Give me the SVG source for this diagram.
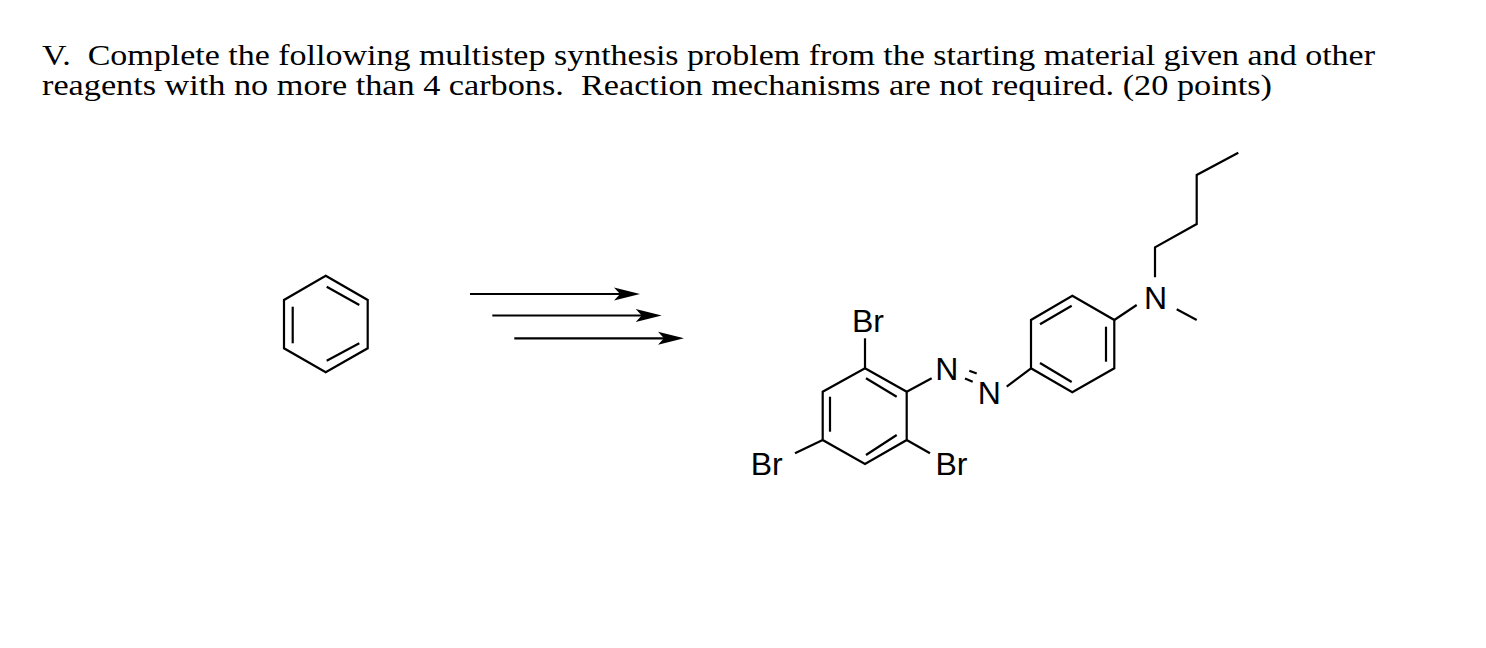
<svg xmlns="http://www.w3.org/2000/svg" width="1486" height="648" viewBox="0 0 1486 648">
<style>
.title{font-family:"Liberation Serif","DejaVu Serif",serif;font-size:29px;fill:#000;white-space:pre}
.b{stroke:#000;stroke-width:2.2;fill:none;stroke-linecap:butt;stroke-linejoin:miter}
.lbl{font-family:"Liberation Sans",Arial,sans-serif;font-size:32px;fill:#000;text-anchor:middle}
</style>
<defs>
<path id="ah" d="M0,0 L-26,-6.5 L-20,0 L-26,6.5 Z" fill="#000"/>
</defs>
<rect width="1486" height="648" fill="#fff"/>
<g id="title">
<text class="title" x="42" y="65" textLength="1333" lengthAdjust="spacingAndGlyphs" xml:space="preserve">V.  Complete the following multistep synthesis problem from the starting material given and other</text>
<text class="title" x="42" y="95" textLength="1230" lengthAdjust="spacingAndGlyphs" xml:space="preserve">reagents with no more than 4 carbons.  Reaction mechanisms are not required. (20 points)</text>
</g>
<g id="benzene">
<polygon class="b" points="325.7,275.7 367.7,300 367.7,348.3 325.7,372.3 284,348.3 284,300"/>
<line class="b" x1="292.7" y1="306.7" x2="292.7" y2="343.3"/>
<line class="b" x1="326.7" y1="286.7" x2="359.3" y2="305"/>
<line class="b" x1="359.3" y1="343.3" x2="326.7" y2="360.7"/>
</g>
<g id="connectors">
<line class="b" x1="470" y1="294" x2="621" y2="294"/>
<use href="#ah" x="640" y="294"/>
<line class="b" x1="492.3" y1="315.5" x2="643" y2="315.5"/>
<use href="#ah" x="661.7" y="315.5"/>
<line class="b" x1="514.3" y1="338.3" x2="665" y2="338.3"/>
<use href="#ah" x="684" y="338.3"/>
</g>
<g id="product">
<polygon class="b" points="865,368.3 906.7,391.7 906.7,440 865,464 822.7,440 822.7,391.7"/>
<line class="b" x1="866" y1="378.3" x2="896.7" y2="396.7"/>
<line class="b" x1="830" y1="396.7" x2="830" y2="431.7"/>
<line class="b" x1="896.7" y1="435" x2="866" y2="455"/>
<line class="b" x1="865" y1="368.3" x2="865" y2="338.3"/>
<line class="b" x1="822.7" y1="440" x2="795" y2="453.3"/>
<line class="b" x1="906.7" y1="440" x2="930" y2="453.3"/>
<line class="b" x1="906.7" y1="391.7" x2="931.7" y2="378.3"/>
<text class="lbl" x="868" y="332">Br</text>
<text class="lbl" x="766.7" y="475">Br</text>
<text class="lbl" x="951.5" y="475">Br</text>
<text class="lbl" x="946.7" y="380">N</text>
<line class="b" x1="969.3" y1="370.7" x2="976.7" y2="373.6"/>
<line class="b" x1="965" y1="378.5" x2="972.7" y2="381.7"/>
<text class="lbl" x="989.3" y="403.5">N</text>
<line class="b" x1="1006.7" y1="386.7" x2="1031" y2="368.3"/>
<polygon class="b" points="1072.3,295.7 1114.3,320 1114.3,368.3 1072.3,392.3 1031,368.3 1031,320"/>
<line class="b" x1="1040" y1="324.3" x2="1071.7" y2="305.7"/>
<line class="b" x1="1106" y1="326.7" x2="1106" y2="361.7"/>
<line class="b" x1="1040" y1="363" x2="1071.7" y2="382"/>
<line class="b" x1="1114.3" y1="320" x2="1136.7" y2="305"/>
<text class="lbl" x="1155.5" y="308.5">N</text>
<polyline class="b" points="1155,277.3 1155,247.3 1196.7,224 1196.7,175 1238.3,152.7"/>
<line class="b" x1="1176.7" y1="309.3" x2="1196.7" y2="320"/>
</g>
</svg>
